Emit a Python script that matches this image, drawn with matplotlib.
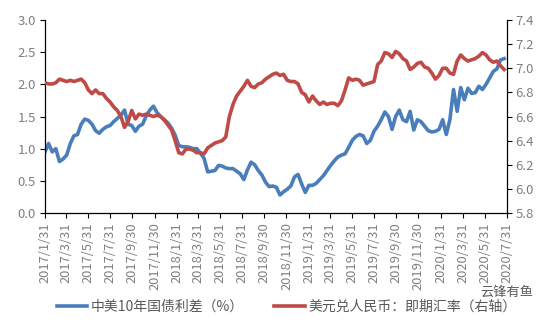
import matplotlib
matplotlib.use("Agg")
import matplotlib.pyplot as plt
import pandas as pd

plt.rcParams['font.family'] = ['Noto Sans CJK SC', 'DejaVu Sans']

# Observation dates (every 10 days from end of Jan 2017)
dates = pd.date_range('2017-01-31', periods=128, freq='10D')

# China-US 10Y government bond yield spread (%)
spread = [
    0.95, 1.08, 0.95, 1.00, 0.80, 0.84, 0.90, 1.08, 1.20, 1.22,
    1.38, 1.46, 1.44, 1.38, 1.28, 1.24, 1.30, 1.34, 1.36, 1.42,
    1.47, 1.52, 1.60, 1.38, 1.36, 1.27, 1.35, 1.38, 1.51, 1.60,
    1.66, 1.56, 1.50, 1.45, 1.40, 1.32, 1.21, 1.05, 1.03, 1.03,
    1.02, 1.00, 1.00, 0.93, 0.85, 0.64, 0.65, 0.66, 0.74, 0.73,
    0.70, 0.69, 0.69, 0.65, 0.61, 0.52, 0.67, 0.79, 0.75, 0.66,
    0.59, 0.48, 0.41, 0.42, 0.40, 0.28, 0.33, 0.37, 0.42, 0.56,
    0.60, 0.45, 0.32, 0.43, 0.43, 0.46, 0.52, 0.58, 0.66, 0.74,
    0.81, 0.87, 0.90, 0.92, 1.02, 1.13, 1.19, 1.22, 1.20, 1.08,
    1.13, 1.27, 1.35, 1.45, 1.57, 1.50, 1.30, 1.50, 1.60, 1.45,
    1.42, 1.58, 1.29, 1.45, 1.42, 1.35, 1.28, 1.26, 1.27, 1.30,
    1.45, 1.22, 1.45, 1.92, 1.58, 1.95, 1.76, 1.94, 1.86, 1.87,
    1.97, 1.92, 2.00, 2.10, 2.20, 2.24, 2.38, 2.40,
]

# USD/CNY spot rate (right axis)
usdcny = [
    6.88, 6.87, 6.87, 6.88, 6.91, 6.90, 6.89, 6.90, 6.89, 6.90,
    6.91, 6.88, 6.82, 6.79, 6.82, 6.79, 6.79, 6.75, 6.72, 6.68,
    6.65, 6.60, 6.51, 6.56, 6.65, 6.58, 6.62, 6.61, 6.62, 6.61,
    6.60, 6.61, 6.60, 6.57, 6.53, 6.49, 6.40, 6.30, 6.29, 6.33,
    6.33, 6.32, 6.30, 6.30, 6.29, 6.34, 6.36, 6.38, 6.39, 6.40,
    6.43, 6.60, 6.70, 6.77, 6.81, 6.85, 6.90, 6.85, 6.84, 6.87,
    6.88, 6.91, 6.93, 6.95, 6.96, 6.94, 6.95, 6.90, 6.89, 6.89,
    6.87, 6.80, 6.78, 6.72, 6.77, 6.73, 6.70, 6.72, 6.70, 6.71,
    6.71, 6.69, 6.73, 6.82, 6.92, 6.90, 6.91, 6.90, 6.86, 6.87,
    6.88, 6.89, 7.03, 7.06, 7.13, 7.12, 7.09, 7.14, 7.12, 7.08,
    7.06, 6.99, 7.01, 7.04, 7.05, 7.01, 7.00, 6.96, 6.91, 6.94,
    7.00, 7.00, 6.96, 6.95, 7.06, 7.11, 7.08, 7.06, 7.07, 7.08,
    7.10, 7.13, 7.11, 7.07, 7.05, 7.06, 7.02, 6.99,
]

tick_labels = [
    '2017/1/31', '2017/3/31', '2017/5/31', '2017/7/31', '2017/9/30',
    '2017/11/30', '2018/1/31', '2018/3/31', '2018/5/31', '2018/7/31',
    '2018/9/30', '2018/11/30', '2019/1/31', '2019/3/31', '2019/5/31',
    '2019/7/31', '2019/9/30', '2019/11/30', '2020/1/31', '2020/3/31',
    '2020/5/31', '2020/7/31',
]

name_spread = '中美10年国债利差（%）'
name_fx = '美元兑人民币：即期汇率（右轴）'

blue = '#4a7ebb'
red = '#be4b48'
label_grey = '#7f7f7f'
text_grey = '#595959'

fig = plt.figure(figsize=(5.5, 3.27), dpi=100)
ax = fig.add_axes([0.0818, 0.3486, 0.8394, 0.5902])
ax2 = ax.twinx()

l1, = ax.plot(dates, spread, color=blue, lw=2.6, solid_joinstyle='round')
l2, = ax2.plot(dates, usdcny, color=red, lw=2.6, solid_joinstyle='round')

tick_dates = pd.to_datetime(tick_labels, format='%Y/%m/%d')
ax.set_xlim(tick_dates[0], tick_dates[-1])
ax.set_xticks(tick_dates)
ax.set_xticklabels(tick_labels, rotation=90, fontsize=9.3, color=label_grey)

ax.set_ylim(0, 3.0)
ax.set_yticks([0.0, 0.5, 1.0, 1.5, 2.0, 2.5, 3.0])
ax.set_yticklabels(['0.0', '0.5', '1.0', '1.5', '2.0', '2.5', '3.0'],
                   fontsize=9.5, color=label_grey)
ax2.set_ylim(5.8, 7.4)
ax2.set_yticks([5.8, 6.0, 6.2, 6.4, 6.6, 6.8, 7.0, 7.2, 7.4])
ax2.set_yticklabels(['5.8', '6.0', '6.2', '6.4', '6.6', '6.8', '7.0', '7.2', '7.4'],
                    fontsize=9.5, color=label_grey)

for a in (ax, ax2):
    a.spines['top'].set_visible(False)
    for s in ('left', 'right', 'bottom'):
        a.spines[s].set_linewidth(0.9)
        a.spines[s].set_color('black')
    a.tick_params(axis='both', direction='out', length=3.5, width=0.8,
                  color='black', pad=3)
ax.spines['right'].set_visible(False)
ax2.spines['left'].set_visible(False)
ax2.spines['bottom'].set_visible(False)

leg = fig.legend([l1, l2], [name_spread, name_fx], loc='center left',
                 bbox_to_anchor=(0.08, 0.061), ncol=2, frameon=False,
                 fontsize=10, handlelength=2.2, columnspacing=2.2,
                 handletextpad=0.25, borderpad=0.4)
for t in leg.get_texts():
    t.set_color(text_grey)

fig.text(0.873, 0.108, '云锋有鱼', fontsize=9.5, color='#333333', alpha=0.8,
         ha='left', va='center')

fig.savefig('out.png', dpi=100)
